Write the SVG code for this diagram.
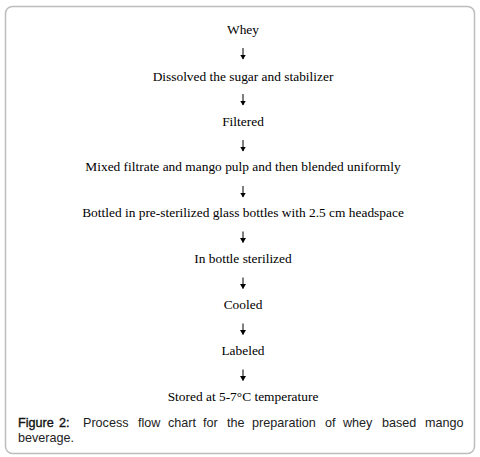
<svg xmlns="http://www.w3.org/2000/svg" width="480" height="457" viewBox="0 0 480 457">
<defs>
<marker id="ah" viewBox="0 0 5 6" refX="4.5" refY="3" markerWidth="5" markerHeight="6" markerUnits="userSpaceOnUse" orient="auto">
<path d="M0,0 L5,3 L0,6 Z" fill="#000"/>
</marker>
</defs>
<style>
.step{font-family:"Liberation Serif","Times New Roman",serif;font-size:13.4px;fill:#000;text-anchor:middle}
.cap{font-family:"Liberation Sans",Arial,sans-serif;font-size:12.6px;fill:#222}
.fig{fill:#111;stroke:#111;stroke-width:0.35}
.con{stroke:#000;stroke-width:1;fill:none}
</style>
<rect x="5.5" y="6.5" width="469" height="447" rx="7" fill="#fff" stroke="#bdbdbd" stroke-width="1.5"/>
<g id="n1"><text class="step" x="243" y="34">Whey</text></g>
<g id="n2"><text class="step" x="243" y="80.5">Dissolved the sugar and stabilizer</text></g>
<g id="n3"><text class="step" x="243" y="126">Filtered</text></g>
<g id="n4"><text class="step" x="243" y="171">Mixed filtrate and mango pulp and then blended uniformly</text></g>
<g id="n5"><text class="step" x="243" y="217">Bottled in pre-sterilized glass bottles with 2.5 cm headspace</text></g>
<g id="n6"><text class="step" x="243" y="263">In bottle sterilized</text></g>
<g id="n7"><text class="step" x="243" y="309">Cooled</text></g>
<g id="n8"><text class="step" x="243" y="355">Labeled</text></g>
<g id="n9"><text class="step" x="243" y="401">Stored at 5-7°C temperature</text></g>
<g id="connectors">
<path class="con" marker-end="url(#ah)" d="M243,48 V59"/>
<path class="con" marker-end="url(#ah)" d="M243,94 V105"/>
<path class="con" marker-end="url(#ah)" d="M243,140 V151"/>
<path class="con" marker-end="url(#ah)" d="M243,186 V197"/>
<path class="con" marker-end="url(#ah)" d="M243,231.5 V242.5"/>
<path class="con" marker-end="url(#ah)" d="M243,277.5 V288.5"/>
<path class="con" marker-end="url(#ah)" d="M243,323.5 V334.5"/>
<path class="con" marker-end="url(#ah)" d="M243,369.5 V380.5"/>
</g>
<g id="caption">
<text class="cap" y="427"><tspan class="fig" x="18">Figure</tspan><tspan class="fig" x="59">2:</tspan><tspan x="83">Process</tspan><tspan x="138">flow</tspan><tspan x="168">chart</tspan><tspan x="203">for</tspan><tspan x="227">the</tspan><tspan x="252">preparation</tspan><tspan x="325">of</tspan><tspan x="343">whey</tspan><tspan x="382">based</tspan><tspan x="425">mango</tspan></text>
<text class="cap" x="18" y="442">beverage.</text>
</g>
</svg>
